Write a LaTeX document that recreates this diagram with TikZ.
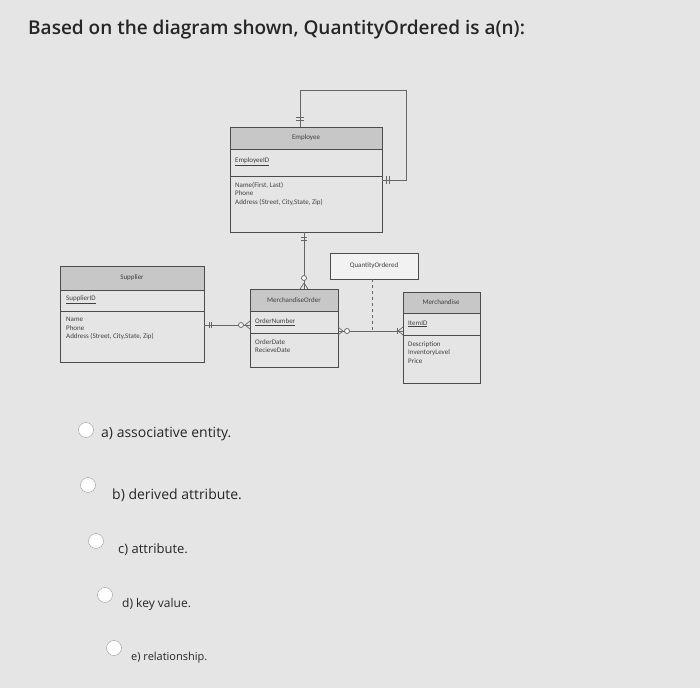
\documentclass[tikz,border=0pt]{standalone}
\usepackage{fontspec}
\setmainfont{Open Sans}
\newfontfamily\boxfont{Carlito}
\begin{document}
\begin{tikzpicture}[x=1pt,y=-1pt,
  ent/.style={draw=black!70,line width=0.8pt},
  hdr/.style={draw=black!70,line width=0.8pt,fill=black!22},
  lbl/.style={font=\boxfont\fontsize{7}{8.5}\selectfont,text=black!75,inner sep=0pt},
  conn/.style={draw=black!60,line width=0.8pt},
  tick/.style={draw=black!60,line width=0.7pt},
  opt/.style={font=\fontsize{14}{16}\selectfont,text=black!85,anchor=west,inner sep=0pt},
  radio/.style={circle,draw=black!40,fill=white,minimum size=15pt,inner sep=0pt}]
\fill[black!10] (0,0) rectangle (700,688);
\useasboundingbox (0,0) rectangle (700,688);
\node[anchor=west,font=\fontsize{19}{22}\selectfont,text=black!85,inner sep=0pt] (title) at (28,30) {\fontspec{Open Sans Semibold}Based on the diagram shown, QuantityOrdered is a(n):};

% Employee
\draw[hdr] (230,127) rectangle (382,149);
\draw[ent] (230,149) rectangle (382,176);
\draw[ent] (230,176) rectangle (382,232);
\node[lbl] (emp) at (306,138) {Employee};
\node[lbl,anchor=west] (empid) at (235,162) {\underline{EmployeeID}};
\node[lbl,anchor=north west,align=left] (empat) at (235,182) {Name(First, Last)\\Phone\\Address (Street, City,State, Zip)};
\coordinate (e1) at (382,180);
\coordinate (e2) at (406,180);
\coordinate (e3) at (406,90);
\coordinate (e4) at (300,90);
\coordinate (e5) at (300,127);
\draw[conn] (e1) -- (e2) -- (e3) -- (e4) -- (e5);
\draw[tick] (386,176)--(386,184) (389,176)--(389,184);
\draw[tick] (296,117)--(304,117) (296,120)--(304,120);

% Supplier
\draw[hdr] (60,266) rectangle (204,290);
\draw[ent] (60,290) rectangle (204,311);
\draw[ent] (60,311) rectangle (204,362);
\node[lbl] (sup) at (132,278) {Supplier};
\node[lbl,anchor=west] (supid) at (66,300) {\underline{SupplierID}};
\node[lbl,anchor=north west,align=left] (supat) at (66,317) {Name\\Phone\\Address (Street, City,State, Zip)};

% MerchandiseOrder
\draw[hdr] (250,289) rectangle (338,311);
\draw[ent] (250,311) rectangle (338,333);
\draw[ent] (250,333) rectangle (338,367);
\node[lbl] (mo) at (294,300) {MerchandiseOrder};
\node[lbl,anchor=west] (moid) at (255,322) {\underline{OrderNumber}};
\node[lbl,anchor=north west,align=left] (moat) at (255,339) {OrderDate\\RecieveDate};

% Merchandise
\draw[hdr] (403,292) rectangle (480,313);
\draw[ent] (403,313) rectangle (480,335);
\draw[ent] (403,335) rectangle (480,383);
\node[lbl] (me) at (441,302) {Merchandise};
\node[lbl,anchor=west] (meid) at (408,324) {\underline{ItemID}};
\node[lbl,anchor=north west,align=left] (meat) at (408,341) {Description\\InventoryLevel\\Price};

% QuantityOrdered
\node[draw=black!70,line width=0.8pt,fill=white!95!black,minimum width=88pt,minimum height=26pt,font=\boxfont\fontsize{7}{8}\selectfont,text=black!75] (qo) at (374,266) {QuantityOrdered};

% connectors
\coordinate (s1) at (204,325);
\coordinate (s2) at (250,325);
\draw[conn] (s1) -- (s2);
\draw[tick] (209,322)--(209,328) (211,322)--(211,328);
\draw[conn,fill=white] (241,325) circle (2.5);
\draw[tick] (245,325)--(250,321) (245,325)--(250,329);

\coordinate (m1) at (338,331);
\coordinate (m2) at (403,331);
\draw[conn] (m1) -- (m2);
\draw[conn,fill=white] (347,331) circle (2.5);
\draw[tick] (343,331)--(338,327) (343,331)--(338,335);
\draw[tick] (397,328)--(397,334);
\draw[tick] (398,331)--(403,327) (398,331)--(403,335);
\coordinate (q1) at (372,331);
\draw[conn,dashed] (qo.south -| q1) -- (q1);

\coordinate (v1) at (304,232);
\coordinate (v2) at (304,289);
\draw[conn] (v1) -- (v2);
\draw[tick] (301,237)--(307,237) (301,240)--(307,240);
\draw[conn,fill=white] (304,278) circle (2.5);
\draw[tick] (304,283)--(300,289) (304,283)--(308,289);

% options
\node[radio] (ra) at (86,430) {};
\node[opt] (ta) at (101,434) {a) associative entity.};
\node[radio] (rb) at (88,485) {};
\node[opt] (tb) at (112,495) {b) derived attribute.};
\node[radio] (rc) at (96,541) {};
\node[opt,font=\fontsize{13}{15}\selectfont] (tc) at (118,550) {c) attribute.};
\node[radio] (rd) at (105,595) {};
\node[opt,font=\fontsize{12}{14}\selectfont] (td) at (122,604) {d) key value.};
\node[radio] (re) at (114,648) {};
\node[opt,font=\fontsize{11}{13}\selectfont] (te) at (131,658) {e) relationship.};
\end{tikzpicture}
\end{document}
